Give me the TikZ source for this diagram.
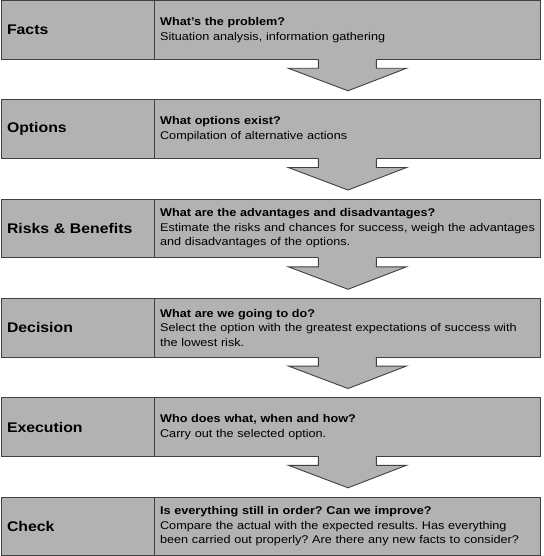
\documentclass[tikz,border=0pt]{standalone}
\usepackage{fontspec}
\setmainfont[FakeStretch=1.13]{Liberation Sans}
\usetikzlibrary{calc}
\frenchspacing
\definecolor{boxfill}{HTML}{B2B2B2}
\definecolor{boxline}{HTML}{404040}
\tikzset{
  x=1pt, y=-1pt,
  cell/.style={draw=boxline, fill=boxfill, line width=0.9pt, minimum height=58.6pt,
    anchor=north west, inner ysep=0pt, outer sep=0pt, align=left},
  titlecell/.style={cell, minimum width=152.8pt, inner xsep=5.5pt, text width=141.8pt,
    font=\fontsize{14}{16}\selectfont\bfseries},
  desccell/.style={cell, minimum width=386.2pt, inner xsep=5.8pt, text width=374.6pt,
    font=\fontsize{11.2}{14.5}\selectfont},
  arrowfill/.style={fill=boxfill},
  arrowline/.style={draw=boxline, line width=0.9pt, line join=miter},
}
\newcommand{\blockarrow}[1]{%
  \fill[arrowfill] ($(#1.south)+(-29,-0.6)$) -- ($(#1.south)+(-29,9)$) -- ($(#1.south)+(-59,9)$)
    -- ($(#1.south)+(0.6,31.5)$) -- ($(#1.south)+(59,9)$) -- ($(#1.south)+(29,9)$)
    -- ($(#1.south)+(29,-0.6)$) -- cycle;
  \draw[arrowline] ($(#1.south)+(-29,0)$) -- ($(#1.south)+(-29,9)$) -- ($(#1.south)+(-59,9)$)
    -- ($(#1.south)+(0.6,31.5)$) -- ($(#1.south)+(59,9)$) -- ($(#1.south)+(29,9)$)
    -- ($(#1.south)+(29,0)$);
}
\begin{document}
\begin{tikzpicture}
\useasboundingbox (0,0) rectangle (543,556);

\node[titlecell] (t1) at (1.5,0.7) {Facts};
\node[desccell] (d1) at (t1.north east) {\textbf{What’s the problem?}\\\mbox{Situation analysis, information gathering}};

\node[titlecell] (t2) at (1.5,99.95) {Options};
\node[desccell] (d2) at (t2.north east) {\textbf{What options exist?}\\\mbox{Compilation of alternative actions}};

\node[titlecell] (t3) at (1.5,199.2) {Risks \& Benefits};
\node[desccell] (d3) at (t3.north east) {\textbf{What are the advantages and disadvantages?}\\\mbox{Estimate the risks and chances for success, weigh the advantages}\\\mbox{and disadvantages of the options.}};

\node[titlecell] (t4) at (1.5,298.45) {Decision};
\node[desccell] (d4) at (t4.north east) {\textbf{What are we going to do?}\\\mbox{Select the option with the greatest expectations of success with}\\\mbox{the lowest risk.}};

\node[titlecell] (t5) at (1.5,397.7) {Execution};
\node[desccell] (d5) at (t5.north east) {\textbf{Who does what, when and how?}\\\mbox{Carry out the selected option.}};

\node[titlecell] (t6) at (1.5,496.95) {Check};
\node[desccell] (d6) at (t6.north east) {\textbf{Is everything still in order? Can we improve?}\\\mbox{Compare the actual with the expected results. Has everything}\\\mbox{been carried out properly? Are there any new facts to consider?}};

\blockarrow{d1}
\blockarrow{d2}
\blockarrow{d3}
\blockarrow{d4}
\blockarrow{d5}
\end{tikzpicture}
\end{document}
